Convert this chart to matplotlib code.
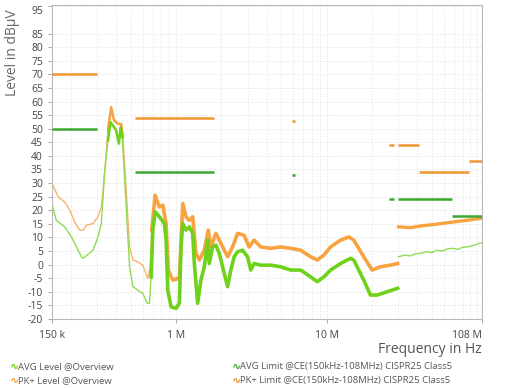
import numpy as np
import matplotlib
matplotlib.use("Agg")
import matplotlib.pyplot as plt
from matplotlib.ticker import FixedLocator, NullFormatter

plt.rcParams["font.family"] = ["Open Sans", "DejaVu Sans"]

# measured curves, frequency in MHz, level in dBuV
avg_freq = [0.152, 0.160, 0.182, 0.202, 0.235, 0.241, 0.281, 0.303, 0.319, 0.335,
            0.353, 0.367, 0.381, 0.400, 0.417, 0.428, 0.439, 0.460, 0.491, 0.517,
            0.558, 0.602, 0.643, 0.666, 0.683, 0.701, 0.726, 0.775, 0.837, 0.859,
            0.881, 0.927, 1.0, 1.052, 1.079, 1.108, 1.165, 1.225, 1.290, 1.322,
            1.392, 1.464, 1.540, 1.622, 1.661, 1.750, 1.840, 1.936, 1.987, 2.089,
            2.200, 2.313, 2.433, 2.563, 2.765, 2.984, 3.139, 3.300, 3.655, 4.257,
            4.960, 5.776, 6.728, 7.834, 8.678, 9.597, 10.63, 12.38, 14.42, 15.16,
            17.66, 19.56, 21.67, 25.23, 29.66]
avg_level = [21.0, 16.3, 13.9, 10.2, 2.9, 2.3, 5.3, 10.2, 15.1, 33.5,
             45.7, 52.4, 51.2, 49.4, 44.5, 50.6, 46.9, 27.4, -0.8, -8.1,
             -9.4, -10.6, -14.2, -14.2, -4.5, 12.7, 19.4, 17.6, 15.1, 9.0,
             -9.4, -15.5, -16.1, -14.2, 6.5, 15.1, 12.7, 13.9, 11.5, 0.6,
             -14.2, -5.7, -0.8, 9.0, 0.4, 6.5, 7.2, 4.1, 1.7, -3.2,
             -8.1, -2.0, 2.9, 4.7, 5.3, 2.9, -2.0, 0.4, -0.2, -0.2,
             -0.8, -2.0, -2.0, -4.5, -6.3, -4.5, -2.0, 0.4, 2.3, 1.7,
             -5.7, -11.2, -11.2, -10.0, -8.7]

avg_hf_freq = [30.1, 33.0, 36.0, 39.0, 41.9, 46.0, 50.0, 54.1, 59.0, 64.0,
               69.7, 75.0, 80.0, 85.5, 92.0, 98.0, 104.7, 108.0]
avg_hf_level = [2.9, 3.5, 3.2, 4.0, 4.1, 4.8, 4.4, 5.3, 5.0, 5.8,
                6.0, 5.6, 6.4, 6.5, 6.9, 7.3, 8.0, 8.0]

pk_freq = [0.152, 0.165, 0.182, 0.197, 0.212, 0.229, 0.241, 0.254, 0.281, 0.303,
           0.319, 0.335, 0.353, 0.371, 0.387, 0.411, 0.432, 0.444, 0.467, 0.491,
           0.517, 0.558, 0.602, 0.649, 0.673, 0.690, 0.726, 0.775, 0.817, 0.859,
           0.889, 0.951, 1.026, 1.052, 1.108, 1.165, 1.225, 1.290, 1.357, 1.427,
           1.540, 1.636, 1.705, 1.840, 1.987, 2.200, 2.374, 2.563, 2.834, 3.058,
           3.300, 3.655, 4.257, 4.960, 5.776, 6.728, 7.834, 8.678, 9.597, 10.63,
           12.38, 14.05, 15.16, 17.66, 20.07, 22.78, 26.53, 29.66]
pk_level = [29.2, 24.9, 23.1, 20.0, 15.7, 12.7, 12.7, 14.5, 15.1, 17.6,
            21.2, 33.5, 49.4, 57.9, 53.1, 51.8, 51.8, 46.9, 27.4, 6.5,
            1.7, 1.0, -0.2, -5.1, -0.8, 12.7, 25.5, 21.2, 21.9, 15.1,
            -2.0, -5.7, -5.1, -5.7, 22.5, 17.6, 16.3, 17.6, 4.1, 1.7,
            5.3, 12.7, 6.5, 11.5, 7.8, 2.9, 6.5, 11.5, 10.8, 6.5,
            9.0, 6.5, 6.0, 6.5, 6.0, 5.3, 2.9, 1.7, 3.5, 6.5,
            9.0, 10.2, 9.0, 2.9, -2.0, -0.8, -0.2, 0.4]

pk_hf_freq = [30.1, 36.0, 41.9, 54.1, 69.7, 85.5, 104.7, 108.0]
pk_hf_level = [13.9, 13.6, 14.2, 14.9, 15.7, 16.3, 17.0, 17.0]

# CISPR25 class 5 limit bands (MHz)
avg_lim_start = [0.15, 0.53, 5.9, 26, 30, 68]
avg_lim_stop = [0.30, 1.8, 6.2, 28, 68, 108]
avg_lim_level = [50, 34, 33, 24, 24, 18]
pk_lim_start = [0.15, 0.53, 5.9, 26, 30, 41, 88]
pk_lim_stop = [0.30, 1.8, 6.2, 28, 41, 88, 108]
pk_lim_level = [70, 54, 53, 44, 44, 34, 38]

legend_labels = ["AVG Level @Overview",
                 "PK+ Level @Overview",
                 "AVG Limit @CE(150kHz-108MHz) CISPR25 Class5",
                 "PK+ Limit @CE(150kHz-108MHz) CISPR25 Class5"]

c_avg = "#6fd21a"
c_pk = "#f8a340"
c_avg_lim = "#3ca630"
c_pk_lim = "#f0952f"

fig = plt.figure(figsize=(5.09, 3.89), dpi=100)
ax = fig.add_axes([0.1022, 0.180, 0.845, 0.807])

hz = 1e6
af = np.array(avg_freq) * hz
al = np.array(avg_level)
pf = np.array(pk_freq) * hz
pl = np.array(pk_level)

# thin parts
ax.plot(pf, pl, color="#f6b46c", lw=1.0, zorder=3)
ax.plot(af, al, color="#8fdc52", lw=1.0, zorder=4)
# noisy parts drawn thicker
m = pf >= 0.68e6
ax.plot(pf[m], pl[m], color=c_pk, lw=2.6, zorder=3, solid_joinstyle="round")
m = af >= 0.68e6
ax.plot(af[m], al[m], color=c_avg, lw=2.6, zorder=4, solid_joinstyle="round")
m = (pf > 0.35e6) & (pf < 0.46e6)
ax.plot(pf[m], pl[m], color=c_pk, lw=1.8, zorder=3)
m = (af > 0.35e6) & (af < 0.46e6)
ax.plot(af[m], al[m], color=c_avg, lw=1.8, zorder=4)

ax.plot(np.array(pk_hf_freq) * hz, pk_hf_level, color=c_pk, lw=2.4, zorder=3)
ax.plot(np.array(avg_hf_freq) * hz, avg_hf_level, color="#8fdc52", lw=1.0, zorder=4)

ax.hlines(avg_lim_level, np.array(avg_lim_start) * hz, np.array(avg_lim_stop) * hz,
          color=c_avg_lim, lw=1.8, zorder=5)
ax.hlines(pk_lim_level, np.array(pk_lim_start) * hz, np.array(pk_lim_stop) * hz,
          color=c_pk_lim, lw=1.8, zorder=5)

ax.set_xscale("log")
ax.set_xlim(0.15e6, 108e6)
ax.set_ylim(-20, 95.5)

ax.xaxis.set_major_locator(FixedLocator([0.15e6, 1e6, 10e6, 108e6]))
ax.set_xticklabels(["150 k", "1 M", "10 M", "108 M"])
minors = [d * k for d in (1e5, 1e6, 1e7) for k in range(2, 10)] + [1e8]
ax.xaxis.set_minor_locator(FixedLocator([v for v in minors if 0.15e6 < v < 108e6]))
ax.xaxis.set_minor_formatter(NullFormatter())

yt = list(range(-20, 90, 5)) + [95]
ax.set_yticks(yt)
ax.set_yticklabels([str(v) for v in yt])
ax.yaxis.get_ticklabels()[-1].set_verticalalignment("top")

ax.tick_params(axis="both", which="major", labelsize=7.5, colors="#999999",
               labelcolor="#444444", length=3, width=0.6)
ax.tick_params(axis="x", which="minor", length=0)
ax.tick_params(axis="x", pad=5)
xl = ax.get_xticklabels()
xl[-1].set_horizontalalignment("right")

ax.grid(True, which="both", axis="x", color="#d8d8d8", ls=(0, (1, 2)), lw=0.6)
ax.grid(True, which="major", axis="y", color="#d8d8d8", ls=(0, (1, 2)), lw=0.6)
for s in ax.spines.values():
    s.set_color("#b8b8b8")
    s.set_linewidth(0.8)

ax.set_ylabel("Level in dBµV", fontsize=10, color="#666666", loc="top")
ax.yaxis.set_label_coords(-0.075, 0.985)
ax.set_xlabel("Frequency in Hz", fontsize=10, color="#555555", loc="right", labelpad=1)

# legend at the bottom with wave icons
icon_colors = [c_avg, c_pk, c_avg_lim, c_pk_lim]
pos = [(10, 367), (10, 381), (232, 367), (232, 381)]
for (px, py), lab, col in zip(pos, legend_labels, icon_colors):
    fig.text(px / 509, 1 - py / 389, "∿", color=col, fontsize=8,
             va="center", ha="left", family=["DejaVu Sans"], fontweight="bold")
    fig.text((px + 8) / 509, 1 - py / 389, lab, color="#555555", fontsize=6.8,
             va="center", ha="left")

fig.savefig("out.png", dpi=100)
